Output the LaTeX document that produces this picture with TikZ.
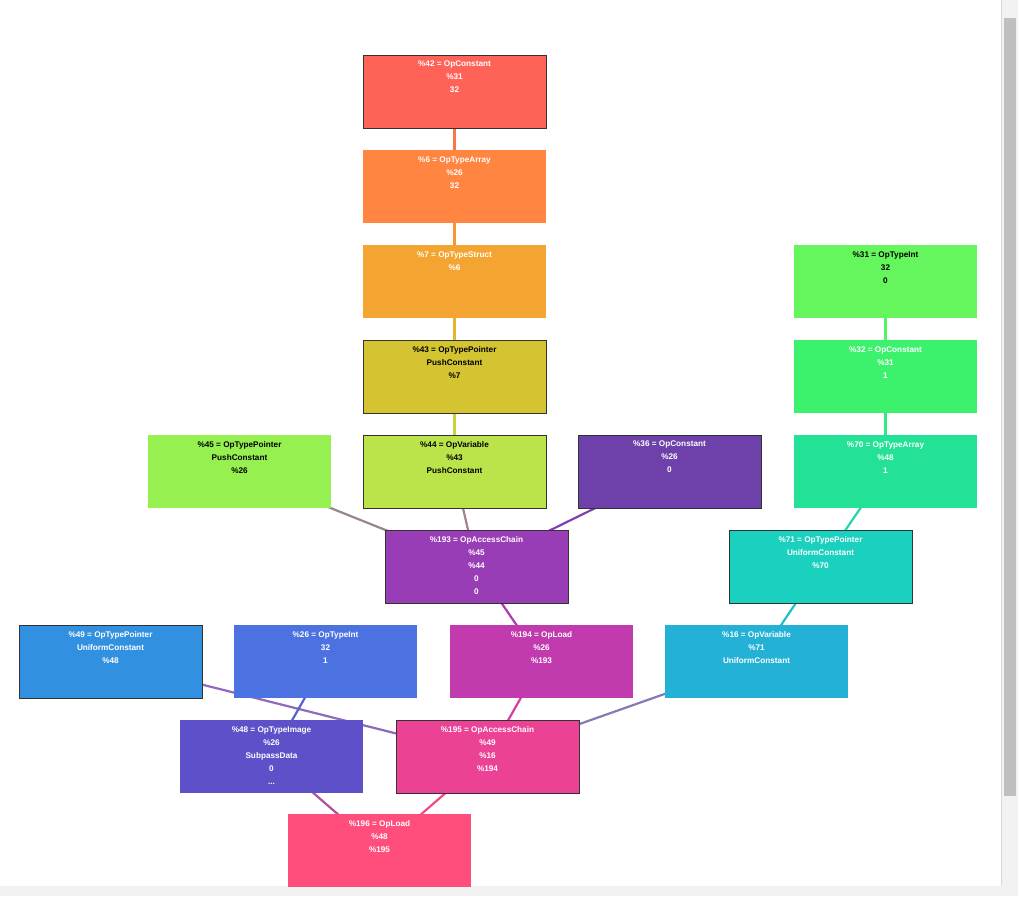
\documentclass[tikz,border=0pt]{standalone}
\usepackage{fontspec}
\setmainfont{Liberation Sans}
\usetikzlibrary{positioning,backgrounds}
\tikzstyle{op} = [rectangle, draw=none, minimum width=183pt, minimum height=73pt, inner sep=0pt]
\tikzstyle{lined} = [draw=black!80, line width=0.8pt]
\tikzstyle{link} = [line width=2.2pt]
\tikzset{optext/.style 2 args={label={[anchor=north, yshift=-3pt, align=center, text=#1, font=\bfseries\fontsize{8.2}{13}\selectfont]north:{#2}}}}
\definecolor{cA}{HTML}{FF6257}\definecolor{cB}{HTML}{FF8540}
\definecolor{cC}{HTML}{F4A431}\definecolor{cD}{HTML}{D5C431}
\definecolor{cE}{HTML}{BBE44A}\definecolor{cF}{HTML}{96F150}
\definecolor{cG}{HTML}{6E40AA}\definecolor{cH}{HTML}{64F65C}
\definecolor{cI}{HTML}{3CF26D}\definecolor{cJ}{HTML}{23E195}
\definecolor{cK}{HTML}{993DB6}\definecolor{cL}{HTML}{1AD0BE}
\definecolor{cM}{HTML}{3191E0}\definecolor{cN}{HTML}{4B72E0}
\definecolor{cO}{HTML}{C13BAF}\definecolor{cP}{HTML}{23B1D5}
\definecolor{cQ}{HTML}{5E50C8}\definecolor{cR}{HTML}{EB4295}
\definecolor{cS}{HTML}{FF4E7C}
\begin{document}
\begin{tikzpicture}[x=1pt, y=-1pt]
\useasboundingbox (0,0) rectangle (1024,896);
% scrollbars
\fill[black!5] (1002,0) rectangle (1018,886);
\fill[black!25] (1004,18) rectangle (1016,796);
\fill[black!5] (0,886) rectangle (1018,896);
\draw[black!15] (1001,0) -- (1001,886);

\node[op, fill=cA, lined, optext={white}{\%42 = OpConstant\\\%31\\32}] (c42) at (454.5,91.5) {};
\node[op, fill=cB, optext={white}{\%6 = OpTypeArray\\\%26\\32}] (t6) at (454.5,186.5) {};
\node[op, fill=cC, optext={white}{\%7 = OpTypeStruct\\\%6}] (t7) at (454.5,281.5) {};
\node[op, fill=cD, lined, optext={black}{\%43 = OpTypePointer\\PushConstant\\\%7}] (p43) at (454.5,376.5) {};
\node[op, fill=cE, lined, optext={black}{\%44 = OpVariable\\\%43\\PushConstant}] (v44) at (454.5,471.5) {};
\node[op, fill=cF, optext={black}{\%45 = OpTypePointer\\PushConstant\\\%26}] (p45) at (239.5,471.5) {};
\node[op, fill=cG, lined, optext={white}{\%36 = OpConstant\\\%26\\0}] (c36) at (669.5,471.5) {};
\node[op, fill=cH, optext={black}{\%31 = OpTypeInt\\32\\0}] (t31) at (885.5,281.5) {};
\node[op, fill=cI, optext={white}{\%32 = OpConstant\\\%31\\1}] (c32) at (885.5,376.5) {};
\node[op, fill=cJ, optext={white}{\%70 = OpTypeArray\\\%48\\1}] (t70) at (885.5,471.5) {};
\node[op, fill=cK, lined, optext={white}{\%193 = OpAccessChain\\\%45\\\%44\\0\\0}] (a193) at (476.5,566.5) {};
\node[op, fill=cL, lined, optext={white}{\%71 = OpTypePointer\\UniformConstant\\\%70}] (p71) at (820.5,566.5) {};
\node[op, fill=cM, lined, optext={white}{\%49 = OpTypePointer\\UniformConstant\\\%48}] (p49) at (110.5,661.5) {};
\node[op, fill=cN, optext={white}{\%26 = OpTypeInt\\32\\1}] (t26) at (325.5,661.5) {};
\node[op, fill=cO, optext={white}{\%194 = OpLoad\\\%26\\\%193}] (l194) at (541.5,661.5) {};
\node[op, fill=cP, optext={white}{\%16 = OpVariable\\\%71\\UniformConstant}] (v16) at (756.5,661.5) {};
\node[op, fill=cQ, optext={white}{\%48 = OpTypeImage\\\%26\\SubpassData\\0\\...}] (t48) at (271.5,756.5) {};
\node[op, fill=cR, lined, optext={white}{\%195 = OpAccessChain\\\%49\\\%16\\\%194}] (a195) at (487.5,756.5) {};
\node[op, fill=cS, optext={white}{\%196 = OpLoad\\\%48\\\%195}] (l196) at (379.5,850.5) {};

% links behind the boxes
\begin{pgfonlayer}{background}
\foreach \a/\b/\c in {c42/t6/cA!50!cB, t6/t7/cB!50!cC, t7/p43/cC!50!cD, p43/v44/cD!50!cE,
  v44/a193/cE!40!cK, p45/a193/cF!40!cK, c36/a193/cG!50!cK, t31/c32/cH!50!cI, c32/t70/cI!50!cJ,
  t70/p71/cJ!50!cL, p71/v16/cL!50!cP, a193/l194/cK!50!cO, l194/a195/cO!50!cR, v16/a195/cP!50!cR,
  p49/a195/cM!50!cR, t26/t48/cN!50!cQ, t48/l196/cQ!50!cS, a195/l196/cR!50!cS}
  \draw[link, \c] (\a.center) -- (\b.center);
\end{pgfonlayer}
\end{tikzpicture}
\end{document}
